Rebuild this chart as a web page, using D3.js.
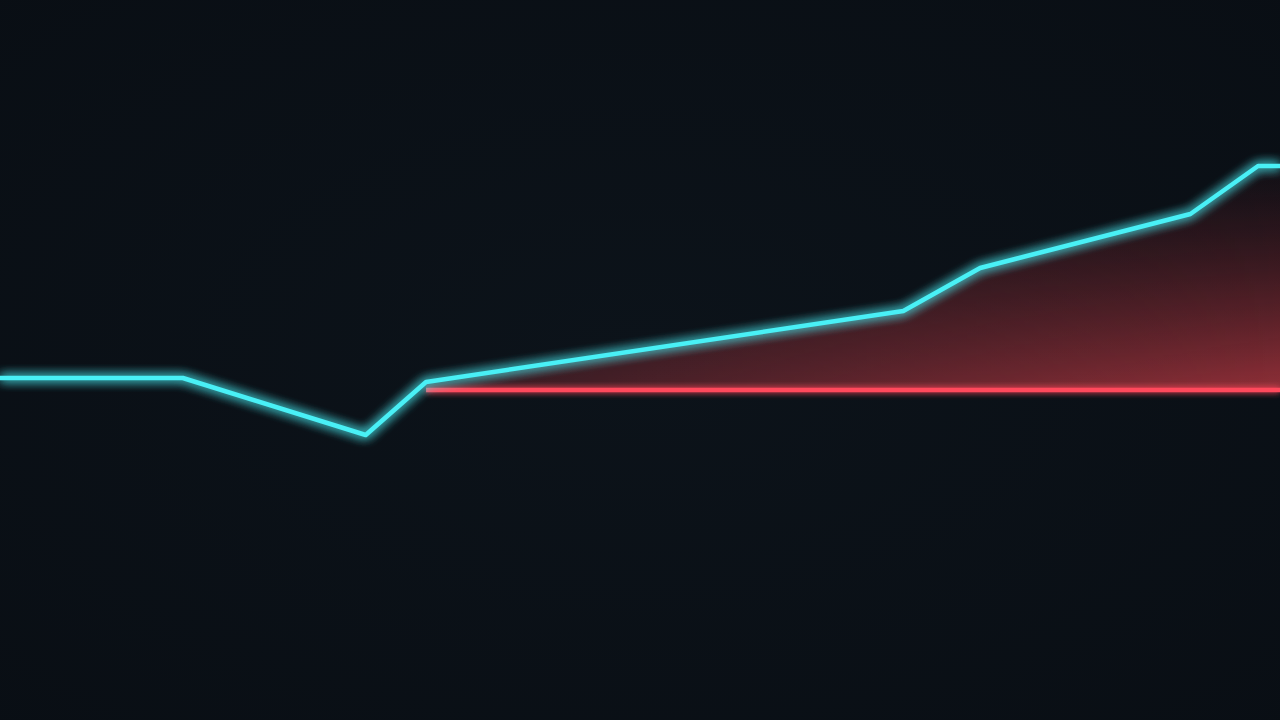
<!DOCTYPE html>
<html>
<head>
<meta charset="utf-8">
<script src="https://cdn.jsdelivr.net/npm/d3@7/dist/d3.min.js"></script>
<style>
html,body{margin:0;padding:0;background:#0a1016;overflow:hidden;}
svg{display:block;}
</style>
</head>
<body>
<svg id="chart" width="1280" height="720"></svg>
<script>
// Data
const xValues = [0, 10, 20, 23.3, 49.4, 53.6, 65.1, 68.8, 70];
const seriesValues = [6, 6, -22.5, 4, 39.5, 61, 88, 112, 112];
const baselineValue = 0;
const baselineStart = 23.3;
const baselineEnd = 70;

const W = 1280, H = 720;
const svg = d3.select("#chart");
const x = d3.scaleLinear().domain([0, 70]).range([0, W]);
const y = d3.scaleLinear().domain([-165, 195]).range([H, 0]);

const defs = svg.append("defs");
const bg = defs.append("radialGradient").attr("id","bg").attr("cx","50%").attr("cy","50%").attr("r","75%");
bg.append("stop").attr("offset","0%").attr("stop-color","#0c131a");
bg.append("stop").attr("offset","100%").attr("stop-color","#090e14");

const fillG = defs.append("linearGradient").attr("id","fillG")
  .attr("gradientUnits","userSpaceOnUse")
  .attr("x1",0).attr("x2",0).attr("y1",y(baselineValue)).attr("y2",y(112));
fillG.append("stop").attr("offset","0%").attr("stop-color","#d8404a").attr("stop-opacity",0.65);
fillG.append("stop").attr("offset","60%").attr("stop-color","#a83038").attr("stop-opacity",0.28);
fillG.append("stop").attr("offset","100%").attr("stop-color","#802028").attr("stop-opacity",0.06);

const hMask = defs.append("linearGradient").attr("id","hMaskG")
  .attr("gradientUnits","userSpaceOnUse")
  .attr("x1",x(baselineStart)).attr("x2",W).attr("y1",0).attr("y2",0);
hMask.append("stop").attr("offset","0%").attr("stop-color","#fff").attr("stop-opacity",0.3);
hMask.append("stop").attr("offset","100%").attr("stop-color","#fff").attr("stop-opacity",1);
defs.append("mask").attr("id","hMask").attr("maskUnits","userSpaceOnUse")
  .attr("x",0).attr("y",0).attr("width",W).attr("height",H)
  .append("rect").attr("width",W).attr("height",H).attr("fill","url(#hMaskG)");

function glow(id, std, op){
  const f = defs.append("filter").attr("id",id)
    .attr("filterUnits","userSpaceOnUse")
    .attr("x",-50).attr("y",-50).attr("width",W+100).attr("height",H+100);
  f.append("feGaussianBlur").attr("in","SourceGraphic").attr("stdDeviation",std).attr("result","b");
  f.append("feComponentTransfer").attr("in","b").attr("result","b2")
    .append("feFuncA").attr("type","linear").attr("slope",op);
  const m = f.append("feMerge");
  m.append("feMergeNode").attr("in","b2");
  m.append("feMergeNode").attr("in","b2");
  m.append("feMergeNode").attr("in","SourceGraphic");
}
glow("glowC", 5.5, 0.95);
glow("glowR", 3, 0.6);

svg.append("rect").attr("width",W).attr("height",H).attr("fill","url(#bg)");

const pts = xValues.map((v,i)=>({x:v, y:seriesValues[i]}));
const areaPts = pts.filter(d=>d.x>=baselineStart);

svg.append("path").datum(areaPts)
  .attr("d", d3.area().x(d=>x(d.x)).y0(y(baselineValue)).y1(d=>y(d.y)))
  .attr("fill","url(#fillG)")
  .attr("mask","url(#hMask)");

svg.append("line")
  .attr("x1",x(baselineStart)).attr("x2",x(baselineEnd))
  .attr("y1",y(baselineValue)).attr("y2",y(baselineValue))
  .attr("stroke","#ff4a5b").attr("stroke-width",4.5)
  .attr("filter","url(#glowR)");

svg.append("path").datum(pts)
  .attr("d", d3.line().x(d=>x(d.x)).y(d=>y(d.y)))
  .attr("fill","none").attr("stroke","#4af0f6").attr("stroke-width",4.5)
  .attr("stroke-linejoin","round")
  .attr("filter","url(#glowC)");
</script>
</body>
</html>
